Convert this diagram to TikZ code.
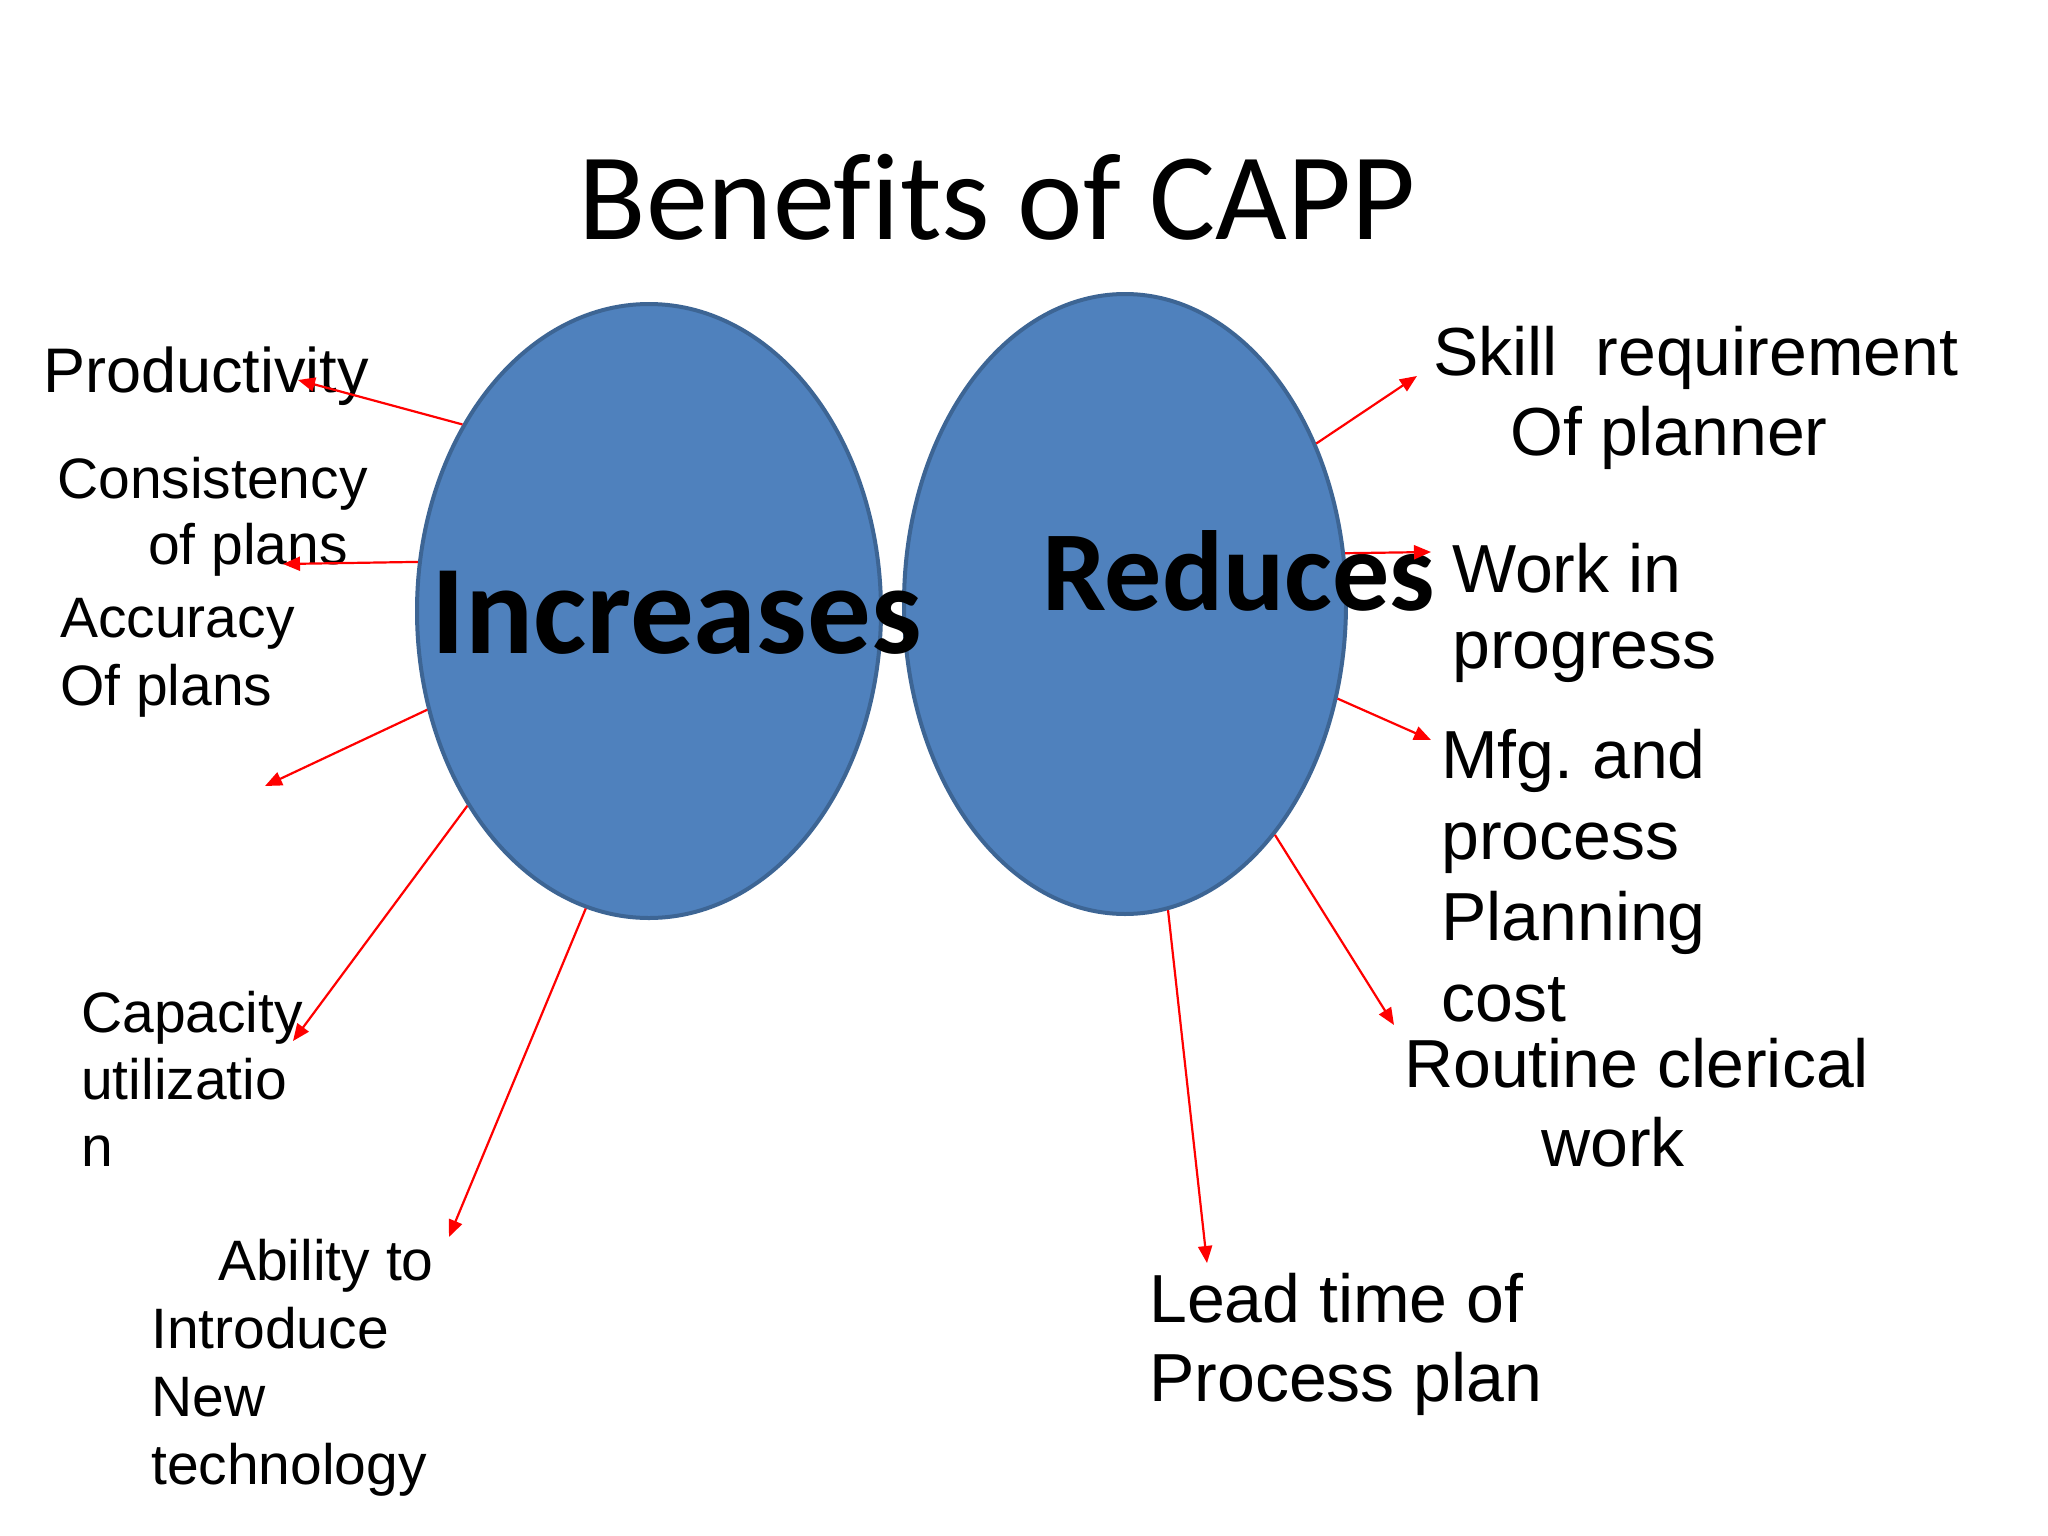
\documentclass[tikz,border=0pt]{standalone}
\usepackage{fontspec}
\setmainfont{Liberation Sans}
\newfontfamily\calfont[Ligatures=NoCommon]{Carlito}
\usetikzlibrary{shapes.geometric,arrows.meta}
\definecolor{ovalfill}{HTML}{4F81BD}
\definecolor{ovaldraw}{HTML}{3D6594}
\newcommand\mlines[2]{\vtop{\baselineskip=#1\relax #2}}
\frenchspacing
\begin{document}
\begin{tikzpicture}[x=1pt,y=1pt,
  oval/.style={ellipse, fill=ovalfill, draw=ovaldraw, line width=4pt, inner sep=0},
  lbl/.style={anchor=base west, inner sep=0, font=\fontsize{57}{68}\selectfont},
  lblr/.style={anchor=base west, inner sep=0, font=\fontsize{68}{80}\selectfont},
  ray/.style={draw=red, line width=2.2pt, -{Triangle[length=17pt,width=14pt,fill=red]}}]
\useasboundingbox[fill=white] (0,-1536) rectangle (2048,0);

\node[anchor=base, inner sep=0, font=\calfont\fontsize{124}{130}\selectfont] (title) at (997,-239) {Benefits of CAPP};

\node[oval, minimum width=464pt, minimum height=614pt] (inc) at (649,-611) {};
\node[oval, minimum width=442pt, minimum height=620pt] (red) at (1125,-604) {};

\node[anchor=base west, inner sep=0, font=\calfont\bfseries\fontsize{127}{130}\selectfont] (inctext) at (431,-653) {Increases};
\node[anchor=base west, inner sep=0, font=\calfont\bfseries\fontsize{114}{120}\selectfont] (redtext) at (1042,-610) {Reduces};

% left labels
\node[lbl, font=\fontsize{63}{70}\selectfont] (prodL) at (43,-392) {Productivity};
\node[lbl] (consL) at (57,-498) {\mlines{66pt}{\hbox{Consistency}\hbox{\hspace*{91pt}of plans}}};
\node[lbl] (accL) at (60,-637) {\mlines{68pt}{\hbox{Accuracy}\hbox{Of plans}}};
\node[lbl] (capL) at (81,-1032) {\mlines{67pt}{\hbox{Capacity}\hbox{utilizatio}\hbox{n}}};
\node[lbl] (abilL) at (151,-1280) {\mlines{68pt}{\hbox{\hspace*{67pt}Ability to}\hbox{Introduce}\hbox{New}\hbox{technology}}};

% right labels
\node[lblr] (skillL) at (1433,-375) {\mlines{80pt}{\hbox{Skill \ requirement}\hbox{\hspace*{77pt}Of planner}}};
\node[lblr] (workL) at (1452,-592) {\mlines{76pt}{\hbox{Work in}\hbox{progress}}};
\node[lblr] (mfgL) at (1441,-778) {\mlines{81pt}{\hbox{Mfg. and}\hbox{process}\hbox{Planning}\hbox{cost}}};
\node[lblr] (routL) at (1404,-1087) {\mlines{79pt}{\hbox{Routine clerical}\hbox{\hspace*{137pt}work}}};
\node[lblr] (leadL) at (1149,-1322) {\mlines{79pt}{\hbox{Lead time of}\hbox{Process plan}}};

% arrow ends
\coordinate (prodT) at (298,-380);
\coordinate (consT) at (283,-564);
\coordinate (accT) at (265,-786);
\coordinate (capT) at (293,-1041);
\coordinate (abilT) at (449,-1237);
\coordinate (skillT) at (1417,-376);
\coordinate (workT) at (1431,-552);
\coordinate (mfgT) at (1431,-740);
\coordinate (routT) at (1394,-1025);
\coordinate (leadT) at (1207,-1263);

\draw[ray] (inc.135.8) -- (prodT);
\draw[ray] (inc.168.5) -- (consT);
\draw[ray] (inc.204.5) -- (accT);
\draw[ray] (inc.227.9) -- (capT);
\draw[ray] (inc.258.1) -- (abilT);
\draw[ray] (red.40) -- (skillT);
\draw[ray] (red.13.7) -- (workT);
\draw[ray] (red.-24.8) -- (mfgT);
\draw[ray] (red.-57.6) -- (routT);
\draw[ray] (red.-82.4) -- (leadT);
\end{tikzpicture}
\end{document}
